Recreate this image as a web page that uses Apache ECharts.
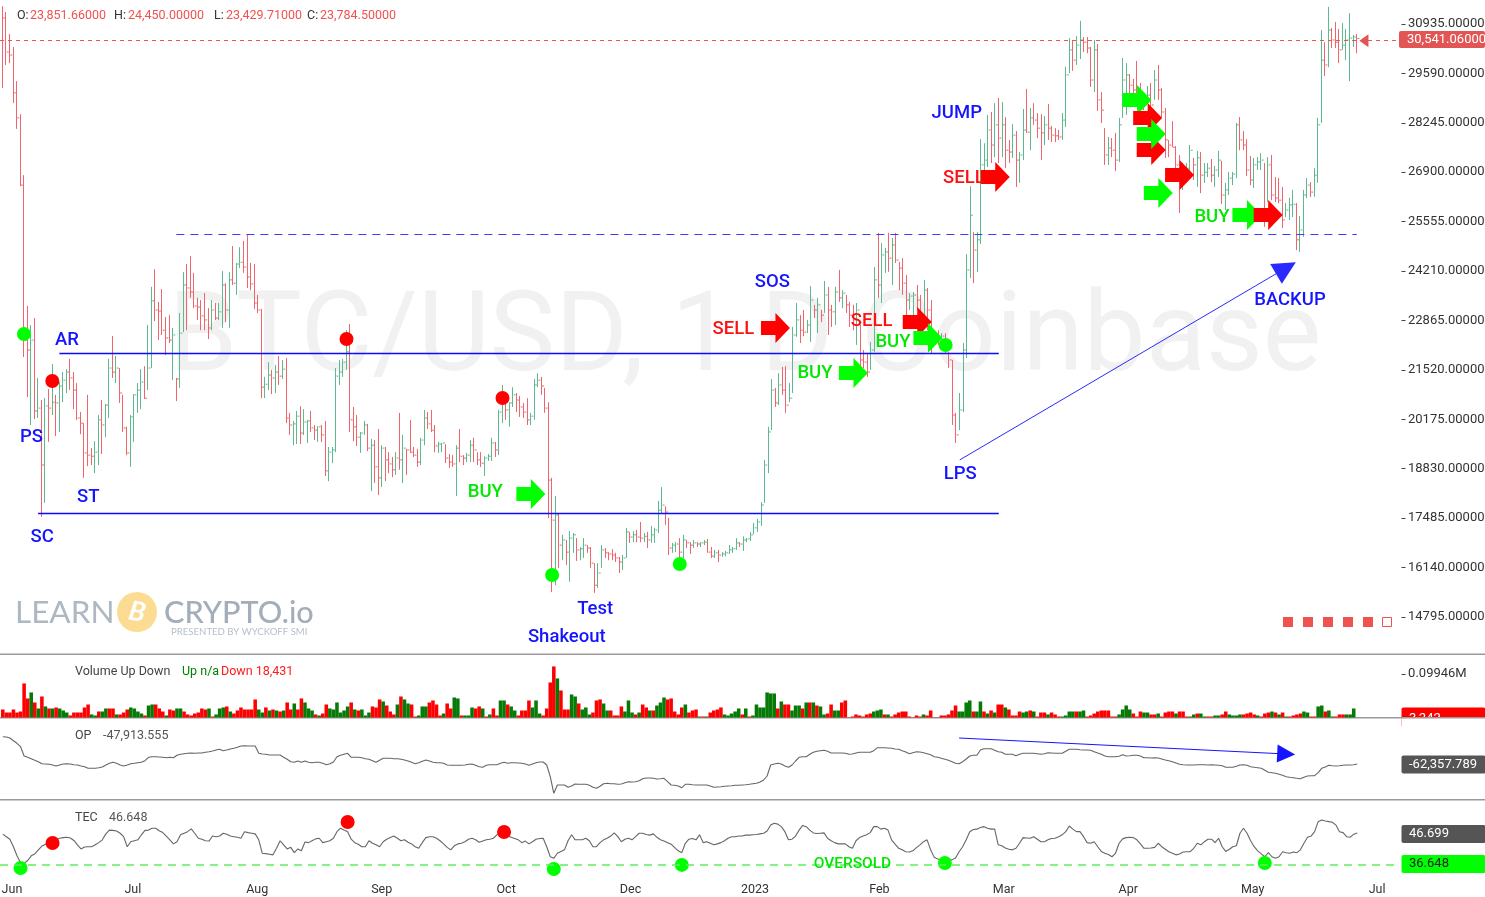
<!DOCTYPE html>
<html><head><meta charset="utf-8">
<style>html,body{margin:0;padding:0;background:#fff}#c{width:1485px;height:897px}</style>
<script src="https://cdn.jsdelivr.net/npm/echarts@6/dist/echarts.min.js"></script>
</head><body><div id="c"></div>
<script>
const highs=[
31420,31260,30660,30310,29380,28480,26820,23260,22740,22930,
21300,20700,20750,21000,21680,20840,21190,21460,21540,21820,
21460,21160,20370,20070,20840,19390,19580,20290,20700,20590,
21820,22440,21900,21570,20840,19970,20290,20860,21160,21540,
21620,22740,23780,24260,23370,23720,22960,23010,22660,21300,
23070,24180,24400,24620,24160,23480,23420,23610,23200,23420,
23340,23340,24210,23880,24180,24890,24430,24860,25030,25190,
24430,24400,23560,23180,21330,21730,21520,21650,21900,21790,
21840,20350,20130,20400,20530,20450,20160,20400,20020,19990,
20020,20130,19420,19420,21570,21790,21820,22600,22770,20510,
20290,19830,20130,20050,19640,19610,19910,19470,19420,19280,
19150,19280,20350,19750,19370,20160,19420,19370,19670,20430,
20370,20430,20020,19560,19530,19500,19230,19200,19470,19910,
19200,19260,19610,19670,19280,19280,19170,19230,19670,19560,
20430,21110,20620,20640,21050,20890,20810,20620,20750,20350,
21270,21430,21330,21030,20640,18580,18090,17620,17030,16890,
17130,17080,16940,16700,16940,16750,16700,16260,16260,16750,
16670,16560,16640,16540,16430,16480,17220,17110,17130,17160,
17380,17080,17110,17270,17220,17950,18330,17810,17490,16810,
16830,16940,17030,16890,16830,16890,16830,16830,16890,16920,
16700,16620,16620,16560,16590,16750,16700,16940,16830,16990,
16940,17110,17350,17460,17920,19070,19970,21270,21030,21430,
21600,21620,21160,22690,23340,23010,23150,22880,23800,23290,
23480,23150,23940,23780,23290,23780,24240,23690,23560,23370,
23290,23340,22740,22060,21980,22280,24320,25250,24970,24840,
25250,25110,25250,24460,24560,24100,23610,23640,23830,23560,
23970,23750,23420,22600,22600,22520,22520,22010,21790,20350,
20890,22250,24670,26520,25270,25270,27800,27690,28460,28540,
28780,28920,28810,28400,27780,28210,28020,27450,28620,29170,
28650,28780,28510,28480,28430,28760,28160,28100,28050,28510,
29770,30550,30500,30610,31020,30580,30580,30310,30500,30390,
29080,28100,27860,27830,27970,28380,30010,29870,29570,29440,
29930,29330,28870,29250,29330,29680,29820,29190,28650,27780,
28290,27610,27370,27150,27150,27640,27290,27480,27450,27150,
27150,27260,27070,27480,27210,26610,26910,26910,28240,28400,
28020,27800,27340,27290,27310,27420,27150,27310,27370,26770,
26740,26500,26060,26200,26420,26060,25710,26420,26740,26630,
27010,28380,30770,30440,31400,30830,30990,30800,30960,30800,
31230,30640,30660];
const lows=[
29190,29820,29870,28780,28080,26520,21870,20780,20020,20180,
20210,17520,17900,19560,20290,19720,19830,20640,20890,20970,
20450,20160,19770,18580,18900,18930,18710,18930,19230,19690,
20210,21300,21160,20620,19830,19200,18880,19560,20350,20450,
20730,20970,21570,22850,22330,22470,21920,22250,21240,20670,
21030,22550,22600,23480,23200,22880,22600,22600,22360,22600,
22880,22880,22660,22820,22660,23830,23560,24290,24160,23750,
23690,23180,23070,20750,20750,20970,20860,20890,21110,21270,
20070,19750,19470,19500,19500,19750,19530,19830,19610,19560,
19560,18630,18490,18980,19280,21110,21330,21520,19830,19580,
19450,19260,19750,19310,18220,18440,18110,18330,18490,18710,
18600,18660,18800,18440,18660,19260,19150,18880,18930,19470,
19910,19830,19280,19260,19280,18980,18850,18880,18090,19010,
18930,19010,19010,19010,18930,18880,18630,19040,19040,19150,
19200,20070,20160,19970,20510,20370,20240,20210,20020,20020,
20160,21050,20840,20350,17490,15470,15660,16130,16340,16210,
15750,16540,16320,16340,16400,16540,16130,15450,15580,16130,
16400,16340,16340,16290,15990,16070,16400,16810,16830,16830,
16830,16830,16670,16810,16810,17080,17620,17300,16480,16540,
16560,16400,16400,16670,16510,16670,16700,16700,16750,16540,
16400,16400,16290,16430,16450,16510,16540,16620,16700,16590,
16830,16860,17050,17110,17270,17900,18710,19880,20510,20560,
20840,20350,20640,20890,22420,22250,22440,22520,22280,22930,
22520,22820,23070,22470,22690,22740,23370,23200,23070,22690,
22600,22200,21570,21570,21330,21520,22010,23480,23340,24160,
24190,23830,24430,23690,23560,22930,23150,22660,23150,22520,
22880,22600,21980,22200,22200,22200,21980,21570,20020,19530,
19880,20370,21840,24020,23880,24180,24950,26610,27040,27150,
27310,27150,27310,27010,27150,27290,26500,26610,27230,27970,
27500,28190,27830,27230,27640,27780,27720,27720,27780,27780,
28130,29600,29660,29820,29980,30170,30140,29220,29080,28570,
28240,27100,27100,27310,26930,27180,28380,28460,28870,28870,
29060,28870,28590,28780,28540,28870,28870,28400,27290,27310,
27580,27010,25790,26420,26880,26820,26690,26500,26330,26610,
26770,26630,26500,26770,26030,25870,26280,26550,26740,27500,
27500,26800,26550,26470,26960,26960,25410,26090,26140,26090,
26060,25380,25680,25600,25680,24780,24730,25140,26200,26230,
26230,26610,28240,29520,29760,30280,30280,29870,30230,29950,
29380,30310,30140];
const closes=[
31100,30170,30090,29060,28380,26550,22330,22060,22330,20400,
20480,18930,20540,20480,20640,20620,21080,21240,21460,21300,
20970,20210,20070,19260,19200,19170,19280,20160,20020,20560,
21570,21460,21570,20890,19940,19260,20240,20840,20970,21190,
20750,21570,23400,23150,23120,22600,22390,22330,22470,21270,
22520,23830,23750,23640,23260,23230,22990,22880,22660,23150,
22930,23100,23830,23150,23970,23880,24400,24450,24320,24050,
23860,23340,23150,21050,21130,21380,21300,21460,21350,21540,
20210,20020,20050,20260,19800,20100,20130,19940,19880,19970,
19750,18770,19280,19340,21350,21460,21730,22010,20160,19970,
19690,19800,20020,19390,19470,18880,18580,19390,19070,18960,
18800,19120,19070,19390,19340,19280,19200,19010,19610,20210,
20050,19880,19450,19500,19530,19120,19010,18960,19390,19170,
19120,19200,19470,19340,19070,18980,19120,19170,19530,19340,
20370,20840,20430,20620,20840,20700,20510,20370,20160,20260,
21110,21240,21080,20480,18520,17430,17570,16750,16890,16560,
16940,17030,16620,16650,16750,16670,16260,15660,15990,16620,
16540,16510,16480,16400,16290,16400,17110,16970,17030,16970,
16940,16990,16890,17030,17160,17700,17840,17650,16670,16750,
16780,16560,16890,16810,16750,16810,16780,16810,16830,16560,
16450,16540,16480,16510,16540,16620,16650,16810,16780,16890,
16920,17030,17220,17380,17840,18930,19830,20970,20620,21110,
20970,20560,20750,22470,22880,22600,22550,22740,23420,23150,
23290,23010,23560,23150,23100,23640,23480,23610,23290,23010,
22880,23150,21790,21730,21460,22060,23970,23830,24650,24730,
24560,24920,24510,24290,23880,23420,23530,23560,23420,23010,
23690,23150,22470,22500,22410,22440,22200,21790,20290,19750,
20430,22060,24240,25730,24780,25060,27100,27230,28050,27640,
28190,27830,28190,27500,27450,27910,27230,27370,28050,27990,
28380,28320,28100,27970,28190,28100,27910,27890,27860,28320,
29550,30230,29950,30360,30500,30440,30280,29410,30230,28870,
28590,27370,27560,27500,27230,28190,29410,29550,29270,29140,
29080,29060,28730,29000,28730,29410,29140,28540,27780,27640,
27580,27100,26690,26960,27010,27500,27100,27290,26820,26900,
27010,26820,26960,27230,26280,26420,26740,26850,28190,27780,
27640,26960,26690,27100,27180,27230,25600,27100,26280,26200,
26140,25600,25870,26010,26030,25060,25330,26280,26550,26360,
26820,28190,29950,29820,30770,30500,30440,30230,30360,30500,
30550,30580,30541.06];
const firstOpen=31400;

const volumeK=[
18.3,11.4,11.4,18.3,11.4,13.7,77.8,43.5,57.2,34.3,
20.6,48,25.2,20.6,20.6,22.9,20.6,16,11.4,4.6,
11.4,11.4,11.4,22.9,29.7,6.9,4.6,13.7,13.7,20.6,
20.6,20.6,6.9,6.9,11.4,18.3,22.9,20.6,13.7,9.1,
4.6,27.4,29.7,29.7,20.6,13.7,4.6,18.3,16,20.6,
20.6,13.7,6.9,4.6,9.1,11.4,20.6,18.3,20.6,2.3,
6.9,20.6,22.9,25.2,13.7,9.1,16,22.9,18.3,18.3,
18.3,41.2,18.3,11.4,22.9,16,18.3,16,13.7,16,
34.3,18.3,32,18.3,43.5,34.3,20.6,16,6.9,4.6,
9.1,29.7,20.6,18.3,34.3,11.4,16,25.2,34.3,18.3,
16,18.3,4.6,11.4,25.2,22.9,41.2,36.6,27.4,13.7,
6.9,29.7,48,41.2,32,29.7,2.3,4.6,25.2,25.2,
34.3,38.9,29.7,4.6,9.1,32,20.6,45.7,43.5,4.6,
4.6,4.6,22.9,20.6,25.2,20.6,2.3,6.9,20.6,4.6,
38.9,38.9,29.7,25.2,16,4.6,16,16,38.9,22.9,
38.9,9.1,4.6,20.6,80,116.6,89.2,61.7,18.3,18.3,
52.6,48,32,18.3,22.9,6.9,11.4,38.9,41.2,32,
16,16,4.6,4.6,25.2,13.7,38.9,11.4,6.9,11.4,
29.7,22.9,16,16,27.4,34.3,45.7,41.2,43.5,13.7,
6.9,22.9,29.7,11.4,16,18.3,2.3,2.3,2.3,11.4,
16,18.3,22.9,6.9,4.6,9.1,13.7,20.6,6.9,20.6,
2.3,4.6,29.7,22.9,22.9,57.2,54.9,54.9,20.6,36.6,
29.7,29.7,16,27.4,27.4,20.6,34.3,34.3,34.3,27.4,
25.2,6.9,9.1,29.7,16,16,34.3,38.9,0.5,2.3,
6.9,4.6,2.3,6.9,9.1,13.7,16,18.3,6.9,6.9,
2.3,6.9,11.4,13.7,13.7,2.3,0.5,4.6,2.3,6.9,
4.6,16,0.5,0.5,4.6,4.6,6.9,16,27.4,13.7,
13.7,34.3,38.9,13.7,13.7,36.6,13.7,9.1,16,11.4,
29.7,29.7,22.9,18.3,4.6,4.6,13.7,11.4,13.7,16,
13.7,2.3,11.4,11.4,6.9,11.4,6.9,2.3,2.3,4.6,
13.7,13.7,13.7,13.7,16,2.3,4.6,9.1,13.7,16,
16,16,2.3,2.3,6.9,18.3,27.4,18.3,9.1,2.3,
13.7,11.4,11.4,6.9,6.9,9.1,2.3,11.4,13.7,13.7,
9.1,13.7,13.7,2.3,2.3,6.9,9.1,9.1,2.3,2.3,
2.3,4.6,4.6,6.9,13.7,6.9,4.6,4.6,6.9,6.9,
9.1,11.4,6.9,4.6,2.3,9.1,11.4,13.7,11.4,6.9,
11.4,2.3,2.3,4.6,6.9,9.1,13.7,11.4,2.3,2.3,
25.2,27.4,13.7,16,2.3,2.3,6.9,6.9,6.9,6.9,
20.6];
const volumeSides=[
'rrrrrrrrgr','grgrgrgggr','rrrrrggrgg','rrgrrrgggg','rggrrrgrrg','grrrrrrrgr','gggrgrrrrr','rrggrgrgrg',
'rrgrrgggrg','rrggggggrg','rgggrrrgrr','rgrggrrggg','rrrrgrrggr','gggrrgrgrr','ggrggrrrrg','ggrrrrgrrr',
'ggrgggrrrg','grrrrgggrg','rrgrgggrrr','rrgrrrgrgr','rrrgggggrg','rgggggggrg','rrgggrgrgr','ggrrggrrrr',
'rrrrrgggrg','rrrrrrrrrg','rrrrrrrrrg','gggrggrgrg','rrgrrrrggr','grrrgrrrgg','ggrggrrrrr','rrrrggggrr',
'rggrrgrrrr','grrrggrggr','rggrrggggr','rrrgrrrgrg','rgrrrrggrr','ggrggrrrggg'].join('');

const opK=[
-35.1,-35.4,-36.4,-39.1,-41.7,-45.1,-54.4,-55.7,-57.1,-58.7,
-60.1,-62.1,-62.4,-62.7,-63.4,-64.4,-63.4,-62.4,-62.1,-62.4,
-63.1,-63.4,-64.4,-65.1,-66.7,-66.7,-66.7,-66.1,-65.4,-63.4,
-61.7,-60.7,-61.7,-63.4,-64.4,-63.4,-62.1,-61.7,-61.1,-60.7,
-59.1,-55.7,-55.1,-55.1,-55.4,-55.7,-56.1,-55.7,-56.1,-53.7,
-52.7,-52.1,-51.7,-51.4,-51.7,-51.4,-51.4,-50.7,-50.1,-49.4,
-48.4,-47.7,-49.1,-48.4,-47.4,-46.7,-45.7,-44.4,-44.1,-44.4,
-44.4,-44.4,-51.7,-52.4,-52.7,-53.4,-53.4,-53.4,-53.4,-55.7,
-57.7,-60.1,-60.7,-59.4,-60.7,-59.4,-60.7,-61.1,-60.7,-60.7,
-61.7,-63.1,-62.1,-60.4,-55.1,-53.7,-52.7,-51.7,-55.7,-55.7,
-55.7,-56.1,-57.1,-57.7,-59.1,-60.7,-58.7,-56.7,-56.7,-56.7,
-57.1,-57.1,-57.7,-58.4,-59.4,-60.7,-62.1,-61.1,-59.7,-58.4,
-59.4,-60.7,-61.1,-61.1,-61.7,-63.4,-63.7,-63.7,-63.7,-63.7,
-63.4,-62.7,-62.4,-63.7,-65.1,-65.7,-63.7,-63.1,-63.1,-63.1,
-61.7,-60.7,-61.7,-61.1,-61.1,-61.4,-61.7,-62.4,-63.7,-62.4,
-61.1,-60.4,-60.4,-63.4,-75.1,-91.7,-83.4,-83.4,-83.4,-85.7,
-84.4,-82.4,-82.7,-82.7,-82.7,-83.7,-85.7,-86.7,-84.7,-82.1,
-81.7,-82.1,-82.1,-82.7,-82.4,-81.1,-80.1,-80.4,-80.1,-79.1,
-77.1,-76.4,-76.4,-76.7,-77.4,-77.1,-76.7,-80.1,-83.4,-83.7,
-84.4,-86.1,-82.7,-82.7,-83.1,-83.4,-83.4,-83.4,-83.4,-84.4,
-85.7,-85.4,-85.1,-84.7,-84.4,-84.1,-83.7,-83.7,-83.4,-83.1,
-82.7,-82.1,-81.7,-80.4,-78.4,-74.4,-63.4,-62.4,-61.7,-62.4,
-64.4,-65.7,-63.4,-59.4,-55.7,-55.1,-55.1,-52.7,-50.7,-49.7,
-49.1,-48.7,-49.7,-51.4,-51.4,-51.4,-51.4,-51.7,-52.7,-52.4,
-51.4,-50.7,-50.7,-50.7,-50.7,-49.1,-46.1,-46.1,-46.1,-46.4,
-46.7,-47.4,-47.7,-49.1,-50.4,-52.1,-51.1,-50.1,-50.4,-51.1,
-52.1,-53.1,-55.1,-55.7,-56.7,-57.7,-58.7,-60.1,-61.7,-62.1,
-60.1,-57.4,-54.4,-53.7,-53.7,-48.4,-47.1,-47.1,-47.1,-48.7,
-50.1,-50.7,-52.7,-52.7,-52.7,-54.1,-52.7,-51.7,-51.7,-51.7,
-51.7,-52.1,-52.7,-52.1,-51.1,-51.4,-51.7,-51.7,-51.7,-49.7,
-47.7,-47.7,-47.7,-48.1,-48.4,-48.4,-48.7,-50.1,-51.4,-52.7,
-54.4,-55.1,-55.1,-55.1,-54.7,-53.1,-54.4,-54.1,-53.7,-53.7,
-54.4,-56.1,-56.1,-56.4,-56.1,-56.4,-57.4,-58.4,-59.1,-60.1,
-61.4,-62.7,-63.1,-63.4,-63.4,-63.4,-63.1,-63.1,-63.1,-63.4,
-63.1,-63.4,-63.7,-64.1,-65.7,-65.7,-65.7,-64.7,-63.4,-63.1,
-63.7,-65.1,-65.7,-66.1,-66.7,-68.7,-70.7,-71.1,-71.7,-72.7,
-73.7,-75.1,-75.7,-76.1,-76.7,-77.1,-75.7,-74.4,-74.1,-74.1,
-71.1,-66.7,-65.4,-63.7,-64.1,-64.4,-64.1,-63.7,-63.4,-63.4,
-63.1,-62.4];

const tec=[
46.3,45.5,44.7,42.3,39.4,37.2,37,37.9,39.4,40,
41.3,42.5,43.1,43.6,43.9,44.7,45,45.2,45.3,45.1,
44.3,42.9,41.6,42.2,42.3,42.3,42.9,43.6,44.5,46.4,
47.6,47.5,47.3,46.6,45.5,42.3,43.9,44.2,44.5,46.1,
47.5,47.6,48.2,48.2,47.4,46.8,45.7,44.5,43.2,43.9,
46.1,46.6,47.1,48,46.6,45,44.7,44.2,44.1,45.7,
45.5,45.7,46.6,46.3,45.7,45.5,45.3,45,47.1,46.8,
46.6,46.4,44.5,40.2,40.1,39.9,39.7,41.8,44.2,42.9,
41.6,42.1,40.4,41.6,41,43.8,43.6,44.2,44.8,45,
43.6,43.9,44.2,45,47.1,48.2,47.6,47.1,44.7,43.6,
43.1,42.3,42.3,44.2,43.4,42.9,42.3,43.9,44.7,45.2,
45.7,45,44.2,44.5,43.7,43.2,42.3,41.8,43.6,45.2,
45.5,45.5,45,44.2,43.2,42.1,41.3,42.6,43.2,43.4,
43.9,44.7,45,44.5,43.7,44.1,44.5,44.7,45,46.1,
47.1,46.8,45.7,45.3,44.9,44.5,43.6,44.1,43.2,43.9,
44.7,44.9,45,42.3,39.1,38.6,40.2,40.8,41.3,44.2,
46.1,44.5,44.5,44.5,45,44.2,42.3,42.3,43.6,44.5,
45,45.7,46.7,45.5,43.9,44.7,45,44.5,45.5,46.6,
46.6,46.2,46,46.4,45.3,44.5,44.1,43.6,43.1,42,
41,40.4,43.4,44.7,44.9,44.5,46.1,43.6,43.9,43.4,
42.9,43.2,43.6,44.2,45,45.5,45.5,45.7,45.7,46,
46,46.1,46.2,46.4,46.6,47.3,49.2,49.8,49.5,48.7,
47.1,44.5,44.7,45.7,47.6,49.1,48.7,47.6,46.7,46.5,
46.6,46.7,45,44.2,43.6,43.2,43.2,43.2,42.3,41.8,
44.2,45.2,45.7,46.1,46.8,48.7,48.7,47.9,48.2,47.6,
44.5,43.1,41.8,41.3,40.7,40.6,41,42,42.9,43.9,
44.5,41.3,38.9,38.4,38.1,38.1,38.1,38.1,38.7,40.7,
42.3,44.5,47.1,47.8,47.9,48.4,48.7,48.2,47.9,47.9,
42.9,42.6,41.9,41.5,41.3,41.8,43.4,45.2,45.1,45,
45.5,44.7,43.9,43.9,44.5,44.9,45,45.5,46.1,47.1,
48.9,47.9,47.1,47.1,45.5,43.6,43.4,43.9,42.3,40.8,
40.2,39.8,39.1,40.2,43.4,44.8,45.2,45.3,45.2,44.5,
43.2,41.8,41.8,41.9,42.1,43.4,42.3,41.5,40.7,40.2,
39.7,40,40.6,40.7,40.7,41.8,43.4,42.9,43.9,44.7,
44.7,43.6,45,42.3,40.8,41.5,42.3,42.6,46.6,48.2,
46.6,44.2,42.3,41,40,39.1,40.4,39.1,38.6,39.1,
40.7,40.4,40.2,40.6,40.4,41.3,43.4,45.3,45.7,47.1,
50.3,50.8,50.5,50.3,50.1,49.2,47.1,46.8,45.5,45.3,
46.3,46.699];

const xTickLabels=[[3,'Jun'],[37,'Jul'],[72,'Aug'],[107,'Sep'],[142,'Oct'],[177,'Dec'],[212,'2023'],[247,'Feb'],[282,'Mar'],[317,'Apr'],[352,'May'],[387,'Jul']];
const priceTicks=[14795,16140,17485,18830,20175,21520,22865,24210,25555,26900,28245,29590,30935];
const lastPrice=30541.06, priceLineLevel=30480, oversold=36.648, volumeTick=99.46;
const levelAR=21966, levelSC=17610, levelRes=25218;

const BLUE='#1414ff',LIME='#00e800',RED='#ff1010';
const textNotes=[
[8,19720,'PS',BLUE],[18,22360,'AR',BLUE],[24,18087,'ST',BLUE],[11,16998,'SC',BLUE],
[167,15038,'Test',BLUE],[159,14276,'Shakeout',BLUE],[217,23939,'SOS',BLUE],[269,28540,'JUMP',BLUE],
[270,18713,'LPS',BLUE],[363,23449,'BACKUP',BLUE],
[136,18223,'BUY',LIME],[229,21462,'BUY',LIME],[251,22306,'BUY',LIME],[341,25708,'BUY',LIME],
[206,22660,'SELL',RED],[245,22878,'SELL',RED],[271,26770,'SELL',RED]];
const arrowNotes=[
[149,18141,'g'],[218,22660,'r'],[240,21435,'g'],[258,22823,'r'],[261,22388,'g'],[280,26770,'r'],
[320,28866,'g'],[323,28376,'r'],[324,27505,'r'],[324,27940,'g'],[332,26824,'r'],[326,26334,'g'],[351,25736,'g'],[357,25736,'r']];
const priceDots=[[6,22497,'g'],[14,21217,'r'],[97,22360,'r'],[141,20754,'r'],[155,15936,'g'],[191,16236,'g'],[266,22197,'g']];
const tecDots=[[5,35.5,'g'],[14,43.5,'r'],[97,50.2,'r'],[141,47,'r'],[155,35.2,'g'],[191,36.5,'g'],[265,37.1,'g'],[355,37.1,'g']];

const UP='#5dba8e',DOWN='#f0646c';
const N=392;
const cats=Array.from({length:N},(_,i)=>String(i));
const labelAt={};xTickLabels.forEach(([i,t])=>labelAt[i]=t);
const candle=closes.map((c,i)=>{
  const prev=i?closes[i-1]:firstOpen;
  const o=Math.max(lows[i],Math.min(highs[i],prev));
  return [o,c,lows[i],highs[i]];
});
const tick=closes.map((c,i)=>({value:[i,c],itemStyle:{opacity:1,color:(i?closes[i-1]:firstOpen)<=c?UP:DOWN}}));
const dotColor=s=>s==='g'?'#00ff00':'#ff0000';
const arrowPath='path://M0,8 L15,8 L15,0 L30,15 L15,30 L15,22 L0,22 Z';
const baseX={type:'category',data:cats,boundaryGap:true,axisLine:{show:false},axisTick:{show:false},axisLabel:{show:false},splitLine:{show:false}};
const font='Roboto';
const T=(x,y,text,fill,size,extra)=>({type:'text',silent:true,x,y,style:Object.assign({text,fill,font:`${size||12.5}px ${font}`,textVerticalAlign:'middle'},extra||{})});
const tag=(x,y,w,h,fill,text,tf,tx)=>[
 {type:'rect',silent:true,shape:{x,y,width:w,height:h,r:2},style:{fill}},
 T(tx,y+h/2,text,tf,13)];
const option={
 animation:false,backgroundColor:'#fff',
 grid:[
  {left:0.9,top:0,width:1389.6,height:654,outerBoundsMode:'none'},
  {left:1,top:654,width:1393.6,height:63.5,outerBoundsMode:'none'},
  {left:1,top:718,width:1393.6,height:82,outerBoundsMode:'none'},
  {left:1,top:800,width:1393.6,height:78,outerBoundsMode:'none'}],
 xAxis:[
  Object.assign({},baseX,{gridIndex:0}),
  Object.assign({},baseX,{gridIndex:1}),
  Object.assign({},baseX,{gridIndex:2}),
  Object.assign({},baseX,{gridIndex:3,axisLabel:{show:true,interval:i=>labelAt[i]!==undefined,formatter:(v,i)=>labelAt[i]||'',color:'#333',fontFamily:font,fontSize:12.5,margin:5,padding:[0,3,0,0]}})],
 yAxis:[
  {gridIndex:0,type:'value',position:'right',offset:11,min:13786,max:31588,scale:true,
   axisLine:{show:false},splitLine:{show:false},
   axisTick:{show:true,length:4,customValues:priceTicks,lineStyle:{color:'#444'},inside:false},
   axisLabel:{customValues:priceTicks,formatter:v=>v.toFixed(5),color:'#333',fontFamily:font,fontSize:13,margin:6.5,padding:[4,0,0,0]}},
  {gridIndex:1,type:'value',position:'right',offset:7,min:0,max:145,axisLine:{show:false},splitLine:{show:false},
   axisTick:{show:true,length:4,customValues:[volumeTick],lineStyle:{color:'#444'}},
   axisLabel:{customValues:[volumeTick],formatter:v=>(v/1000).toFixed(5)+'M',color:'#333',fontFamily:font,fontSize:13,margin:6.5,padding:[4,0,0,0]}},
  {gridIndex:2,type:'value',position:'right',min:-98.4,max:-16.4,show:false},
  {gridIndex:3,type:'value',position:'right',min:32.32,max:57.2,show:false}],
 graphic:[
  T(745,342,'BTC/USD, 1 D Coinbase','#f1f1f1',110.5,{textAlign:'center'}),
  T(17,15.5,'O:','#333',12.5),T(30,15.5,'23,851.66000','#ef5350',12.5),
  T(114,15.5,'H:','#333',12.5),T(128,15.5,'24,450.00000','#ef5350',12.5),
  T(214,15.5,'L:','#333',12.5),T(226,15.5,'23,429.71000','#ef5350',12.5),
  T(307,15.5,'C:','#333',12.5),T(320,15.5,'23,784.50000','#ef5350',12.5),
  T(75,672,'Volume Up Down','#444',12.5),T(182,672,'Up n/a','#008000',12.5),T(221,672,'Down 18,431','#ff1a1a',12.5),
  T(75,736,'OP','#444',12.5),T(103,736,'-47,913.555','#555',12.5),
  T(75,818,'TEC','#444',12.5),T(109,818,'46.648','#555',12.5),
  {type:'text',silent:true,x:15,y:613,style:{text:'LEARN',fill:'#aeb8c2',font:'400 31.5px Lato',textVerticalAlign:'middle'}},
  {type:'circle',silent:true,shape:{cx:137,cy:612,r:20},style:{fill:'#fbdc92'}},
  {type:'text',silent:true,x:137,y:612,rotation:-0.2,style:{text:'B',fill:'#fff',font:'italic bold 27px Lato',textAlign:'center',textVerticalAlign:'middle'}},
  {type:'text',silent:true,x:164,y:613,style:{text:'CRYPTO.io',fill:'#a3aeba',font:'500 30.6px Lato',textVerticalAlign:'middle'}},
  {type:'text',silent:true,x:171,y:632,style:{text:'PRESENTED BY WYCKOFF SMI',fill:'#b5bec8',font:'9.6px Lato',textVerticalAlign:'middle'}},
  ...[1288,1308,1328,1348,1368].map(x=>({type:'rect',silent:true,shape:{x:x-5,y:617,width:10,height:10},style:{fill:'#ef5350'}})),
  {type:'rect',silent:true,shape:{x:1382.5,y:617.5,width:9,height:9},style:{fill:'#fff',stroke:'#ef5350',lineWidth:1}},
  ...tag(1399,31,86,17,'#e25555','30,541.06000','#fff',1407),
  {type:'rect',silent:true,shape:{x:1401.5,y:707.5,width:84,height:20,r:2},style:{fill:'#ff0000'}},
  T(1409,719,'3,242','#fff',13),
  {type:'rect',silent:true,shape:{x:1401.5,y:718,width:84,height:10},style:{fill:'#fff'}},
  ...tag(1401.5,755.5,84,18,'#555','-62,357.789','#fff',1409),
  ...tag(1401.5,825,84,18,'#555','46.699','#fff',1409),
  ...tag(1401.5,855,84,18,'#00ff00','36.648','#222',1409),
  {type:'rect',silent:true,shape:{x:0,y:653.5,width:1485,height:1.5},style:{fill:'#9a9a9a'}},
  {type:'rect',silent:true,shape:{x:0,y:717,width:1485,height:1.5},style:{fill:'#9a9a9a'}},
  {type:'rect',silent:true,shape:{x:0,y:799,width:1485,height:1.5},style:{fill:'#9a9a9a'}}
 ],
 series:[
  {type:'candlestick',name:'BTC/USD',xAxisIndex:0,yAxisIndex:0,data:candle,barWidth:1,z:3,clip:false,
   itemStyle:{color:UP,color0:DOWN,borderColor:UP,borderColor0:DOWN,borderColorDoji:DOWN,borderWidth:1},
   markLine:{silent:true,symbol:['none','none'],animation:false,label:{show:false},
    data:[
     [{yAxis:priceLineLevel,x:0,lineStyle:{color:'#ef5350',type:[4,4],width:1}},{yAxis:priceLineLevel,x:1399}],
     [{coord:[16,levelAR],lineStyle:{color:'#0a0aff',type:'solid',width:1.3}},{coord:[281,levelAR]}],
     [{coord:[10,levelSC],lineStyle:{color:'#0a0aff',type:'solid',width:1.3}},{coord:[281,levelSC]}],
     [{coord:[49,levelRes],lineStyle:{color:'#3c3cff',type:[8,6],width:1.2}},{coord:[382,levelRes]}],
     [{coord:[270,19070],lineStyle:{color:'#2a2aff',type:'solid',width:1}},{coord:[362,24293],symbol:'triangle',symbolSize:23}]
    ]}},
  {type:'scatter',name:'close',xAxisIndex:0,yAxisIndex:0,data:tick,symbol:'rect',symbolSize:[2,1],symbolOffset:[1.5,0],z:3,silent:true},
  {type:'scatter',name:'dots',xAxisIndex:0,yAxisIndex:0,z:4,silent:true,symbol:'circle',symbolSize:14,
   data:priceDots.map(d=>({value:[d[0],d[1]],itemStyle:{opacity:1,color:dotColor(d[2])}}))},
  {type:'scatter',name:'arrows',xAxisIndex:0,yAxisIndex:0,z:5,silent:true,symbol:arrowPath,symbolSize:[29,30],
   data:arrowNotes.map(d=>({value:[d[0],d[1]],itemStyle:{opacity:1,color:dotColor(d[2])}}))},
  {type:'scatter',name:'last',xAxisIndex:0,yAxisIndex:0,z:5,silent:true,symbol:'triangle',symbolSize:[13,9],symbolRotate:90,
   data:[{value:[384,priceLineLevel],itemStyle:{opacity:1,color:'#e25555'}}]},
  {type:'scatter',name:'notes',xAxisIndex:0,yAxisIndex:0,z:6,silent:true,symbolSize:1,itemStyle:{color:'transparent',opacity:1},
   data:textNotes.map(d=>({value:[d[0],d[1]],label:{show:true,position:'inside',offset:[0.5,1.5],formatter:d[2],color:d[3],opacity:1,fontFamily:font,fontWeight:500,fontSize:18.5}}))},
  {type:'bar',name:'Volume',xAxisIndex:1,yAxisIndex:1,barWidth:'100%',z:3,silent:true,
   data:volumeK.map((v,i)=>({value:v,itemStyle:{color:volumeSides[i]==='g'?'#067a06':'#ff0000'}}))},
  {type:'line',name:'OP',xAxisIndex:2,yAxisIndex:2,data:opK,showSymbol:false,z:3,silent:true,lineStyle:{color:'#666',width:1.1},
   markLine:{silent:true,symbol:['none','none'],animation:false,label:{show:false},
    data:[[{coord:[269,-36.4],lineStyle:{color:'#1414ff',type:'solid',width:1}},{coord:[361,-52.4],symbol:'triangle',symbolSize:18}]]}},
  {type:'line',name:'TEC',xAxisIndex:3,yAxisIndex:3,data:tec,showSymbol:false,z:3,silent:true,lineStyle:{color:'#666',width:1.1},
   markLine:{silent:true,symbol:['none','none'],animation:false,label:{show:false},
    data:[[{yAxis:oversold,x:0,lineStyle:{color:'#5cf05c',type:[8,6],width:1.5}},{yAxis:oversold,x:1396}]]}},
  {type:'scatter',name:'tecDots',xAxisIndex:3,yAxisIndex:3,z:4,silent:true,symbol:'circle',symbolSize:14,
   data:tecDots.map(d=>({value:[d[0],d[1]],itemStyle:{opacity:1,color:dotColor(d[2])}}))},
  {type:'scatter',name:'oversoldNote',xAxisIndex:3,yAxisIndex:3,z:6,silent:true,symbolSize:1,itemStyle:{color:'transparent',opacity:1},
   data:[{value:[239,oversold],label:{show:true,position:'inside',formatter:'OVERSOLD',color:'#00e800',opacity:1,fontFamily:font,fontWeight:500,fontSize:15.5}}]}
 ]
};
const chart=echarts.init(document.getElementById('c'),null,{renderer:'canvas'});
chart.setOption(option);
</script></body></html>
